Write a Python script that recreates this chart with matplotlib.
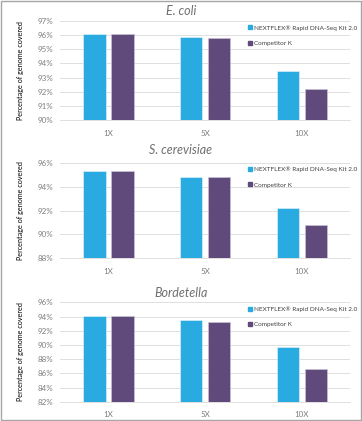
import matplotlib
matplotlib.use("Agg")
import matplotlib.pyplot as plt
import numpy as np
from matplotlib.patches import Patch, Rectangle

plt.rcParams["font.family"] = ["Lato", "DejaVu Sans"]

coverage = ["1X", "5X", "10X"]
series_names = ["NEXTFLEX\u00ae Rapid DNA-Seq Kit 2.0", "Competitor K"]

ecoli_nextflex = [96.1, 95.85, 93.47]
ecoli_competitor = [96.1, 95.82, 92.2]

yeast_nextflex = [95.3, 94.83, 92.2]
yeast_competitor = [95.33, 94.78, 90.78]

bord_nextflex = [94.1, 93.5, 89.75]
bord_competitor = [94.1, 93.27, 86.56]

blue = "#29abe2"
purple = "#604a7b"
grey_text = "#7f7f7f"

fig = plt.figure(figsize=(3.62, 4.21), dpi=100)

panels = [
    ("E. coli", ecoli_nextflex, ecoli_competitor, (90, 97), 1, [0.166, 0.715, 0.801, 0.235], 0.974),
    ("S. cerevisiae", yeast_nextflex, yeast_competitor, (88, 96), 2, [0.166, 0.3864, 0.801, 0.227], 0.644),
    ("Bordetella", bord_nextflex, bord_competitor, (82, 96), 2, [0.166, 0.0458, 0.801, 0.236], 0.305),
]

x = np.arange(len(coverage))
w = 0.23

for title, nf, comp, (lo, hi), step, rect, ty in panels:
    ax = fig.add_axes(rect)
    ax.bar(x - 0.145, np.array(nf) - lo, w, bottom=lo, color=blue,
           edgecolor="#d9eef8", linewidth=0.5, zorder=3)
    ax.bar(x + 0.145, np.array(comp) - lo, w, bottom=lo, color=purple,
           edgecolor="#c9c0d3", linewidth=0.5, zorder=3)
    ax.set_xlim(-0.5, 2.5)
    ax.set_ylim(lo, hi)
    ax.set_yticks(np.arange(lo, hi + 0.1, step))
    ax.set_yticklabels([f"{v}%" for v in range(lo, hi + 1, step)])
    ax.set_xticks(x)
    ax.set_xticklabels(coverage)
    ax.grid(axis="y", color="#d9d9d9", linewidth=0.6, zorder=0)
    for s in ["top", "right", "left"]:
        ax.spines[s].set_visible(False)
    ax.spines["bottom"].set_color("#d9d9d9")
    ax.spines["bottom"].set_linewidth(0.6)
    ax.tick_params(length=0, labelsize=5.8, colors=grey_text, pad=5)
    ax.tick_params(axis="x", pad=7)
    ax.set_ylabel("Percentage of genome covered", fontsize=5.2, color="black")
    ax.yaxis.set_label_coords(-0.125, 0.5)
    handles = [Patch(color=blue), Patch(color=purple)]
    ax.legend(handles, series_names, loc="upper left", bbox_to_anchor=(0.635, 1.0),
              frameon=False, fontsize=4.6, handlelength=0.6, handleheight=0.6,
              handletextpad=0.3, labelspacing=1.6, borderaxespad=0.2,
              labelcolor="#404040")
    fig.text(0.5, ty, title, ha="center", va="center", fontsize=9,
             style="italic", color="#6f6f6f")

fig.add_artist(Rectangle((0.003, 0.003), 0.994, 0.994, transform=fig.transFigure,
                         fill=False, edgecolor="#a6a6a6", linewidth=1))

fig.savefig("out.png", dpi=100)
